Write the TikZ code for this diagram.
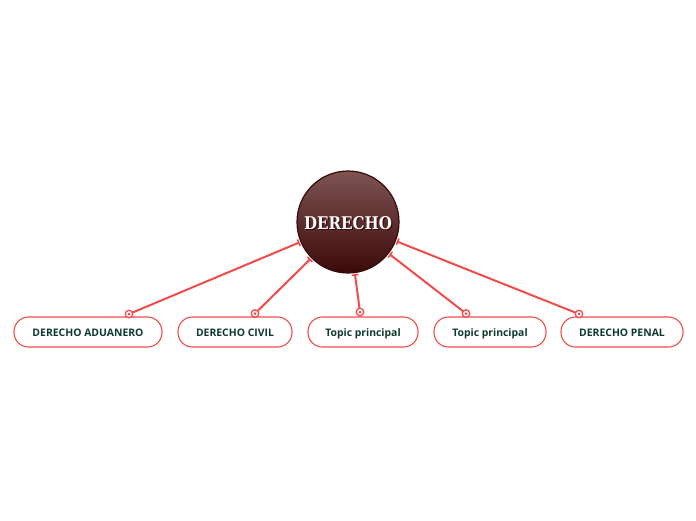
\documentclass[tikz,border=0pt]{standalone}
\usepackage{fontspec}
\setsansfont{Open Sans}
\newfontfamily\titlefont{DejaVu Serif}
\usetikzlibrary{arrows.meta}
\definecolor{linkred}{HTML}{F24B4B}
\definecolor{txtgreen}{HTML}{0E3B2A}
\definecolor{ctop}{HTML}{7E5454}
\definecolor{cbot}{HTML}{3C0909}
\definecolor{cedge}{HTML}{3A0A0A}
\tikzset{
  topicbox/.style={draw=linkred, line width=1.1pt, fill=white, rounded corners=14.5pt,
    minimum height=30pt, inner sep=0pt, text height=8.2pt, text depth=0pt,
    font=\sffamily\bfseries\fontsize{10.4}{12}\selectfont, text=txtgreen},
  link/.style={draw=linkred, line width=2pt, -{Bar[width=7pt,line width=1.6pt]}, shorten >=1pt},
  ring/.style={circle, draw=linkred, line width=1.3pt, fill=white, minimum size=7.5pt, inner sep=0pt},
}
\newcommand{\titletext}{\titlefont\bfseries\scalebox{0.86}[1]{\fontsize{17.5}{20}\selectfont DERECHO}}
\begin{document}
\begin{tikzpicture}[x=1pt,y=-1pt]
\useasboundingbox (0,0) rectangle (696,520);
\node[circle, minimum size=102pt, inner sep=0pt, top color=ctop, bottom color=cbot, draw=cedge, line width=1.2pt] (C) at (348,222) {};
\node[text=cedge] (Ts) at (349.3,224.3) {\titletext};
\node[text=white] (T) at (348,223) {\titletext};

\node[topicbox, minimum width=148pt] (B1) at (88,332) {DERECHO ADUANERO};
\node[topicbox, minimum width=114pt] (B2) at (235,332) {DERECHO CIVIL};
\node[topicbox, minimum width=110pt] (B3) at (363,332) {Topic principal};
\node[topicbox, minimum width=112pt] (B4) at (490,332) {Topic principal};
\node[topicbox, minimum width=122pt] (B5) at (622,332) {DERECHO PENAL};

\coordinate (D1) at (129,314);
\coordinate (D2) at (255,313.5);
\coordinate (D3) at (360,312);
\coordinate (D4) at (466,313.5);
\coordinate (D5) at (579,314);

\foreach \i in {1,...,5} {
  \draw[link] (D\i) -- (C);
}
\foreach \i in {1,...,5} {
  \node[ring] (R\i) at (D\i) {};
  \fill[linkred] (R\i.center) circle (1.5pt);
}
\end{tikzpicture}
\end{document}
